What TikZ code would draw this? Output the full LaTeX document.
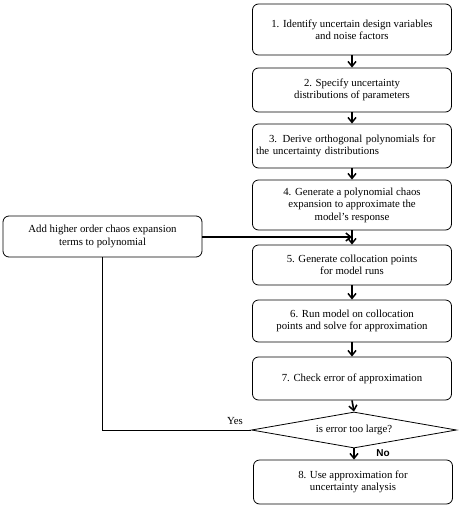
\documentclass[tikz,border=0pt]{standalone}
\usepackage{fontspec}
\setmainfont{Liberation Serif}
\newfontfamily\arialfont{Liberation Sans}
\usetikzlibrary{shapes.geometric,arrows.meta}
\begin{document}
\begin{tikzpicture}[x=1pt,y=1pt,
  box/.style={draw,line width=0.8pt,rounded corners=6pt,minimum width=199pt,align=center,
    font=\fontsize{10.8}{12.5}\selectfont,inner sep=2pt},
  dec/.style={draw,line width=0.8pt,diamond,aspect=5.7,minimum width=205pt,minimum height=36pt,inner sep=0pt,
    font=\fontsize{10.8}{12.5}\selectfont},
  conn/.style={line width=1.6pt},
  arr/.style={conn,-{Straight Barb[length=5pt,width=8pt,line width=1.5pt]}},
  lbl/.style={font=\fontsize{10.8}{12.5}\selectfont}
]
\useasboundingbox (0,0) rectangle (474,-520);
\node[box,minimum height=51pt] (b1) at (352,-29.5) {1. Identify uncertain design variables\\and noise factors};
\node[box,minimum height=44pt] (b2) at (352,-90) {2. Specify uncertainty\\distributions of parameters};
\node[box,minimum height=44pt,text width=192pt,align=left] (b3) at (352,-146) {\hspace*{13pt}3. Derive orthogonal polynomials for\\the uncertainty distributions};
\node[box,minimum height=50pt] (b4) at (352,-205) {4. Generate a polynomial chaos\\expansion to approximate the\\model's response};
\node[box,minimum height=40pt] (b5) at (352,-265) {5. Generate collocation points\\for model runs};
\node[box,minimum height=42pt] (b6) at (352,-321) {6. Run model on collocation\\points and solve for approximation};
\node[box,minimum height=43pt] (b7) at (352,-378.5) {7. Check error of approximation};
\node[dec] (d) at (354,-430) {is error too large?};
\node[box,minimum height=44pt] (b8) at (353,-482) {8. Use approximation for\\uncertainty analysis};
\node[box,minimum height=41pt] (L) at (102.5,-236.5) {Add higher order chaos expansion\\terms to polynomial};
\coordinate (m) at (352,-237);
\coordinate (c) at (102.5,-430);
\draw[arr] (b1) -- (b2);
\draw[arr] (b2) -- (b3);
\draw[arr] (b3) -- (b4);
\draw[arr] (b4) -- (b5);
\draw[arr] (b5) -- (b6);
\draw[arr] (b6) -- (b7);
\draw[arr] (b7.south) -- (d.north);
\draw[arr] (d.south) -- (d.south |- b8.north);
\draw[arr] (L.east |- m) -- (m);
\draw[line width=0.8pt] (d.west) -- (c) -- (L.south);
\node[lbl] (yes) at (235,-421) {Yes};
\node[font=\arialfont\bfseries\fontsize{10}{12}\selectfont] (no) at (383,-453) {No};
\end{tikzpicture}
\end{document}
